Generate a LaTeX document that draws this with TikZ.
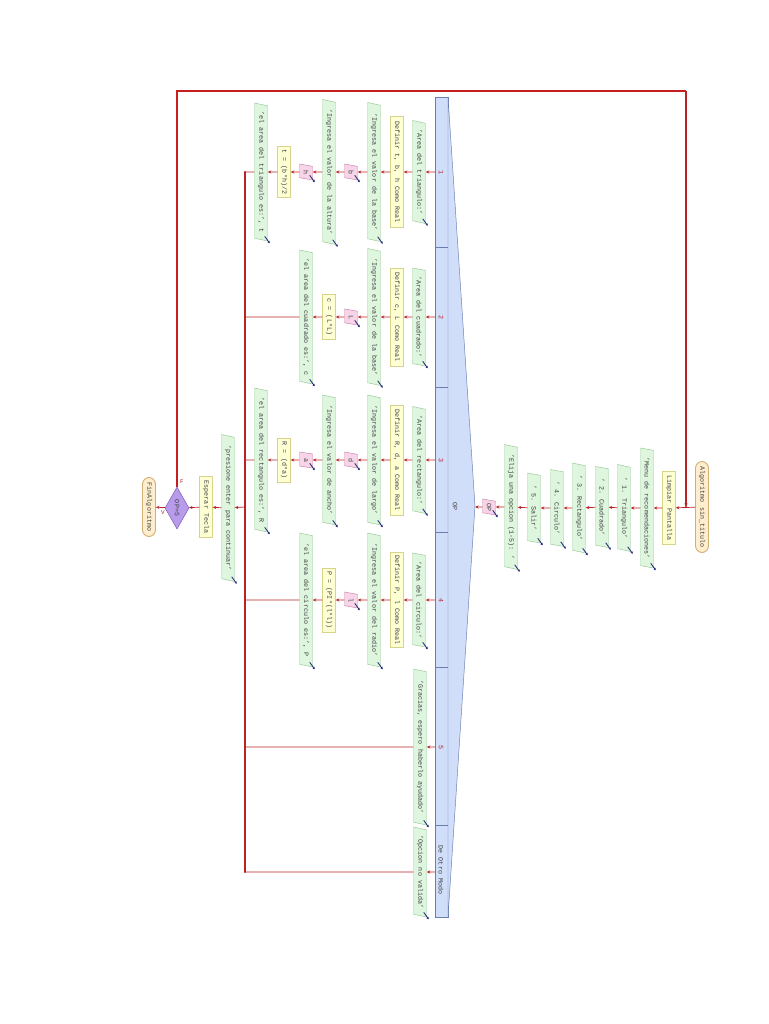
\documentclass[tikz,border=0pt]{standalone}
\usepackage{fontspec}
\setmainfont{Liberation Mono}
\usetikzlibrary{shapes.geometric,arrows.meta}
\definecolor{cl}{RGB}{185,35,35}
\definecolor{gf}{RGB}{222,245,222}\definecolor{gd}{RGB}{150,200,150}
\definecolor{yf}{RGB}{255,255,212}\definecolor{yd}{RGB}{215,210,140}
\definecolor{pf}{RGB}{248,212,232}\definecolor{pd}{RGB}{200,130,170}
\definecolor{bf}{RGB}{208,222,250}\definecolor{bd}{RGB}{105,125,175}
\definecolor{tf}{RGB}{255,238,205}\definecolor{td}{RGB}{210,175,115}
\definecolor{df}{RGB}{185,155,235}\definecolor{dd}{RGB}{120,90,185}
\definecolor{ic}{RGB}{30,40,120}
\tikzset{
 basex/.style={rotate=-90,font=\fontsize{5.7}{7}\selectfont,text=black!75,inner sep=1pt,minimum height=3.9mm},
 outp/.style={basex,trapezium,trapezium left angle=72,trapezium right angle=108,trapezium stretches body,fill=gf,draw=gd},
 inpt/.style={basex,trapezium,trapezium left angle=72,trapezium right angle=108,trapezium stretches body,fill=pf,draw=pd},
 prc/.style={basex,rectangle,fill=yf,draw=yd},
 term/.style={basex,rectangle,rounded corners=2mm,fill=tf,draw=td,line width=0.8pt},
 fl/.style={draw=cl,line width=0.6pt,-{Stealth[length=3pt,width=2.6pt]}},
 lnx/.style={draw=cl,line width=0.6pt},
 icon/.style={draw=ic,line width=0.7pt,-{Stealth[length=2pt,width=2pt]}},
 dot/.style={circle,fill=cl,inner sep=0.7pt}
}
\newcommand\ON[5]{\node[outp,minimum width={#4*0.3mm}] (#1) at (#2,#3) {#5};}
\newcommand\IN[4]{\node[inpt,minimum width=4.8mm] (#1) at (#2,#3) {#4};}
\newcommand\PR[5]{\node[prc,minimum width={#4*0.3mm}] (#1) at (#2,#3) {#5};}
\begin{document}
\begin{tikzpicture}[x=0.3mm,y=-0.3mm]
\useasboundingbox (0,0) rectangle (768,1024);
% switch
\fill[bf,draw=bd] (435,97) rectangle (448,917);
\fill[bf,draw=bd] (448,97) -- (475,506) -- (448,917) -- cycle;
\foreach \yy in {247,387,532,667,825} \draw[bd] (435,\yy) -- (448,\yy);
\node[basex,text=cl,minimum height=0pt] at (441,172) {1};
\node[basex,text=cl,minimum height=0pt] at (441,317) {2};
\node[basex,text=cl,minimum height=0pt] at (441,460) {3};
\node[basex,text=cl,minimum height=0pt] at (441,600) {4};
\node[basex,text=cl,minimum height=0pt] at (441,747) {5};
\node[basex,minimum height=0pt] at (441,870) {De Otro Modo};
\node[basex,minimum height=0pt] at (455,506) {OP};
\coordinate (sw) at (475,507);
\foreach \n/\yy in {c1/172,c2/317,c3/460,c4/600,c5/747,c6/872} \coordinate (\n) at (435,\yy);
% main
\node[term,minimum width={91*0.3mm}] (T) at (702,507) {Algoritmo sin\_titulo};
\PR{lp}{669}{508}{73}{Limpiar Pantalla}
\ON{m0}{647}{508}{120}{'Menu de recomendaciones'}
\ON{m1}{624}{508}{87}{' 1. Triangulo'}
\ON{m2}{602}{507}{81}{' 2. Cuadrado'}
\ON{m3}{579}{508}{90}{' 3. Rectangulo'}
\ON{m4}{557}{508}{77}{' 4. Circulo'}
\ON{m5}{534}{508}{70}{' 5. Salir'}
\ON{m6}{511}{507}{125}{'Elija una opcion (1-5): '}
\IN{op}{489}{507}{OP}
% case 1
\ON{a1}{419}{172}{103}{'Area del triangulo:'}
\PR{d1}{397}{172}{111}{Definir t, b, h Como Real}
\ON{o1}{374}{172}{139}{'Ingresa el valor de la base'}
\IN{i1}{351}{172}{b}
\ON{o2}{329}{172}{145}{'Ingresa el valor de la altura'}
\IN{i2}{306}{172}{h}
\PR{s1}{284}{172}{51}{t = (b*h)/2}
\ON{o3}{261}{172}{138}{'el area del triangulo es:', t}
% case 2
\ON{a2}{419}{317}{98}{'Area del cuadrado:'}
\PR{d2}{397}{317}{98}{Definir c, L Como Real}
\ON{o4}{374}{317}{137}{'Ingresa el valor de la base'}
\IN{i3}{351}{317}{L}
\PR{s2}{329}{317}{45}{c = (L*L)}
\ON{o5}{306}{317}{134}{'el area del cuadrado es:', c}
% case 3
\ON{a3}{419}{460}{107}{'Area del rectangulo:'}
\PR{d3}{397}{460}{110}{Definir R, d, a Como Real}
\ON{o6}{374}{460}{130}{'Ingresa el valor de largo'}
\IN{i4}{351}{460}{d}
\ON{o7}{329}{460}{130}{'Ingresa el valor de ancho'}
\IN{i5}{306}{460}{a}
\PR{s3}{284}{460}{44}{R = (d*a)}
\ON{o8}{261}{460}{144}{'el area del rectangulo es:', R}
% case 4
\ON{a4}{419}{600}{94}{'Area del circulo:'}
\PR{d4}{397}{600}{95}{Definir P, l Como Real}
\ON{o9}{374}{600}{134}{'Ingresa el valor del radio'}
\IN{i6}{351}{600}{l}
\PR{s4}{329}{600}{64}{P = (PI*(l*l))}
\ON{o10}{306}{600}{134}{'el area del circulo es:', P}
% case 5, otro
\ON{o11}{420}{747}{156}{'Gracias, espero haberlo ayudado'}
\ON{o12}{420}{872}{90}{'Opcion no valida'}
% after
\ON{o13}{228}{508}{147}{'presione enter para continuar'}
\PR{et}{206}{507}{61}{Esperar Tecla}
\node[basex,diamond,aspect=1.75,fill=df,draw=dd,inner sep=0.5pt,minimum width=12.6mm,minimum height=7.2mm] (dm) at (177,508) {OP=5};
\node[term,minimum width={59*0.3mm}] (fin) at (149,507) {FinAlgoritmo};
\node[text=cl,font=\fontsize{5}{5}\selectfont] at (182,482) {F};
\node[text=cl,font=\fontsize{5}{5}\selectfont] at (163,513) {V};
% coordinates
\foreach \n/\yy in {j1/172,j2/317,j3/460,j4/600,j5/747,j6/872,jm/507} \coordinate (\n) at (245,\yy);
\coordinate (l1) at (177,91); \coordinate (l2) at (686,91); \coordinate (l3) at (686,507);
% connectors main
\draw[fl] (T) -- (lp); \draw[fl] (lp) -- (m0); \draw[fl] (m0) -- (m1); \draw[fl] (m1) -- (m2);
\draw[fl] (m2) -- (m3); \draw[fl] (m3) -- (m4); \draw[fl] (m4) -- (m5); \draw[fl] (m5) -- (m6);
\draw[fl] (m6) -- (op); \draw[fl] (op) -- (sw);
\draw[fl] (c1) -- (a1); \draw[fl] (a1) -- (d1); \draw[fl] (d1) -- (o1); \draw[fl] (o1) -- (i1);
\draw[fl] (i1) -- (o2); \draw[fl] (o2) -- (i2); \draw[fl] (i2) -- (s1); \draw[fl] (s1) -- (o3); \draw[lnx] (o3) -- (j1);
\draw[fl] (c2) -- (a2); \draw[fl] (a2) -- (d2); \draw[fl] (d2) -- (o4); \draw[fl] (o4) -- (i3);
\draw[fl] (i3) -- (s2); \draw[fl] (s2) -- (o5); \draw[lnx] (o5) -- (j2);
\draw[fl] (c3) -- (a3); \draw[fl] (a3) -- (d3); \draw[fl] (d3) -- (o6); \draw[fl] (o6) -- (i4);
\draw[fl] (i4) -- (o7); \draw[fl] (o7) -- (i5); \draw[fl] (i5) -- (s3); \draw[fl] (s3) -- (o8); \draw[lnx] (o8) -- (j3);
\draw[fl] (c4) -- (a4); \draw[fl] (a4) -- (d4); \draw[fl] (d4) -- (o9); \draw[fl] (o9) -- (i6);
\draw[fl] (i6) -- (s4); \draw[fl] (s4) -- (o10); \draw[lnx] (o10) -- (j4);
\draw[fl] (c5) -- (o11); \draw[lnx] (o11) -- (j5);
\draw[fl] (c6) -- (o12); \draw[lnx] (o12) -- (j6);
\draw[lnx,line width=0.9pt] (j1) -- (j6);
\foreach \n in {j1,j2,j3,j4,j5,j6,jm} \node[dot] at (\n) {};
\draw[fl] (jm) -- (o13); \draw[fl] (o13) -- (et); \draw[fl] (et) -- (dm); \draw[fl] (dm) -- (fin);
\draw[draw={rgb,255:red,200;green,30;blue,30},line width=1pt] (dm.west) -- (l1) -- (l2);
\draw[fl,line width=0.9pt] (l2) -- (l3);
\node[dot] at (l3) {};
% icons
\foreach \n in {m0,m1,m2,m3,m4,m5,m6,op,a1,o1,i1,o2,i2,o3,a2,o4,i3,o5,a3,o6,i4,o7,i5,o8,a4,o9,i6,o10,o11,o12,o13}
  \draw[icon] ([shift={(-3,-5)}]\n.top right corner) -- ([shift={(2,2)}]\n.top right corner);
\end{tikzpicture}
\end{document}
